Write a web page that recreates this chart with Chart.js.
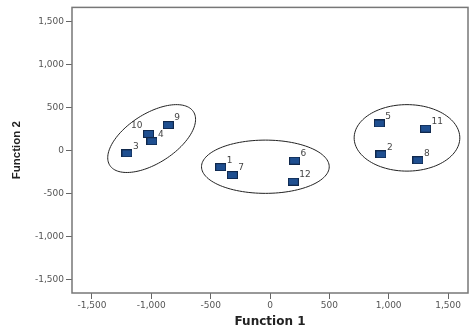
<!DOCTYPE html>
<html>
<head>
<meta charset="utf-8">
<script src="https://cdn.jsdelivr.net/npm/chart.js@4"></script>
<style>
  html, body { margin: 0; padding: 0; background: #fff; }
  #wrap { width: 474px; height: 329px; }
</style>
</head>
<body>
<div id="wrap"><canvas id="chart"></canvas></div>
<script>
// 判别函数得分 (Function 1, Function 2)
const caseIds = ['1', '2', '3', '4', '5', '6', '7', '8', '9', '10', '11', '12'];
const function1 = [-415, 935, -1205, -995, 921, 207, -317, 1246, -857, -1023, 1311, 196];
const function2 = [-195, -46, -34, 107, 314, -119, -287, -115, 295, 192, 253, -364];
// 标签放在点的哪一侧
const labelSide = ['r', 'r', 'r', 'r', 'r', 'r', 'r', 'r', 'r', 'l', 'r', 'r'];

const tickValues = [-1500, -1000, -500, 0, 500, 1000, 1500];

// 分组椭圆：中心 + 两个半轴向量 (数据单位)
const groupEllipses = [
  { cx: -997, cy: 138, ux: 352, uy: 313, vx: 114, vy: -241 },
  { cx: -39, cy: -190, ux: 538, uy: 0, vx: 0, vy: 310 },
  { cx: 1154, cy: 146, ux: 445, uy: 0, vx: 0, vy: 387 }
];

// 矩形点标记
function makeMarker() {
  const c = document.createElement('canvas');
  c.width = 11;
  c.height = 8;
  const g = c.getContext('2d');
  g.fillStyle = '#10284c';
  g.fillRect(0, 0, 11, 8);
  g.fillStyle = '#1f4f90';
  g.fillRect(1, 1, 9, 6);
  return c;
}

const points = function1.map((x, i) => ({ x: x, y: function2[i] }));

// 外框
const frame = {
  id: 'frame',
  afterDraw(chart) {
    const a = chart.chartArea;
    const ctx = chart.ctx;
    ctx.save();
    ctx.strokeStyle = '#777';
    ctx.lineWidth = 1.5;
    ctx.strokeRect(a.left, a.top, a.right - a.left, a.bottom - a.top);
    ctx.restore();
  }
};

// 椭圆
const ellipses = {
  id: 'ellipses',
  beforeDatasetsDraw(chart) {
    const xs = chart.scales.x, ys = chart.scales.y;
    const ctx = chart.ctx;
    ctx.save();
    ctx.strokeStyle = '#222';
    ctx.lineWidth = 1;
    groupEllipses.forEach(e => {
      ctx.beginPath();
      for (let k = 0; k <= 120; k++) {
        const t = k / 120 * Math.PI * 2;
        const px = xs.getPixelForValue(e.cx + e.ux * Math.cos(t) + e.vx * Math.sin(t));
        const py = ys.getPixelForValue(e.cy + e.uy * Math.cos(t) + e.vy * Math.sin(t));
        if (k === 0) ctx.moveTo(px, py); else ctx.lineTo(px, py);
      }
      ctx.closePath();
      ctx.stroke();
    });
    ctx.restore();
  }
};

// 点编号
const pointLabels = {
  id: 'pointLabels',
  afterDatasetsDraw(chart) {
    const ctx = chart.ctx;
    const meta = chart.getDatasetMeta(0);
    ctx.save();
    ctx.font = '9px "DejaVu Sans"';
    ctx.fillStyle = '#444';
    ctx.textBaseline = 'middle';
    meta.data.forEach((el, i) => {
      if (labelSide[i] === 'l') {
        ctx.textAlign = 'right';
        ctx.fillText(caseIds[i], el.x - 6, el.y - 8);
      } else {
        ctx.textAlign = 'left';
        ctx.fillText(caseIds[i], el.x + 6, el.y - 7);
      }
    });
    ctx.restore();
  }
};

const fmt = v => v.toLocaleString('en-US');

new Chart(document.getElementById('chart'), {
  type: 'scatter',
  data: {
    datasets: [{
      data: points,
      pointStyle: makeMarker(),
      pointRadius: 5,
      pointHoverRadius: 5
    }]
  },
  options: {
    responsive: true,
    maintainAspectRatio: false,
    animation: false,
    events: [],
    layout: { padding: { top: 4, right: 6, left: 0, bottom: 0 } },
    plugins: { legend: { display: false }, tooltip: { enabled: false } },
    scales: {
      x: {
        type: 'linear',
        min: -1668,
        max: 1668,
        afterBuildTicks: s => { s.ticks = tickValues.map(v => ({ value: v })); },
        afterFit: s => { s.height = 36; },
        ticks: {
          callback: fmt,
          font: { family: 'DejaVu Sans', size: 9 },
          color: '#555',
          padding: 1,
          maxRotation: 0
        },
        grid: { drawOnChartArea: false, drawTicks: true, tickLength: 6, color: '#666' },
        border: { display: false },
        title: {
          display: true,
          text: 'Function 1',
          font: { family: 'DejaVu Sans', size: 12, weight: 'bold' },
          color: '#222',
          padding: { top: 0, bottom: 0 }
        }
      },
      y: {
        type: 'linear',
        min: -1660,
        max: 1665,
        afterBuildTicks: s => { s.ticks = tickValues.map(v => ({ value: v })); },
        afterFit: s => { s.width = 72; },
        ticks: {
          callback: fmt,
          font: { family: 'DejaVu Sans', size: 9 },
          color: '#555',
          padding: 2
        },
        grid: { drawOnChartArea: false, drawTicks: true, tickLength: 6, color: '#666' },
        border: { display: false },
        title: {
          display: true,
          text: 'Function 2',
          font: { family: 'Liberation Sans', size: 11.5, weight: 'bold' },
          color: '#222',
          padding: { top: 10, bottom: 0 }
        }
      }
    }
  },
  plugins: [ellipses, pointLabels, frame]
});
</script>
</body>
</html>
